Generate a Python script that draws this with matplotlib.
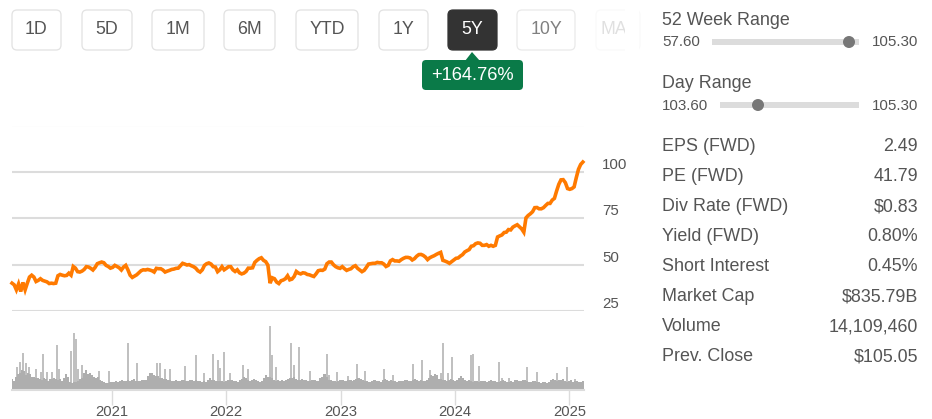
import numpy as np
import matplotlib
matplotlib.use("Agg")
import matplotlib.pyplot as plt
from matplotlib.patches import FancyBboxPatch, Polygon, Rectangle, Circle
from matplotlib.transforms import ScaledTranslation

plt.rcParams['font.family'] = ['Liberation Sans', 'DejaVu Sans']

# ---------- data ----------
price = [40.0,39.1,36.4,39.6,35.5,40.4,36.4,40,43.3,44.3,43.3,40.9,41.5,42.4,41.5,41.1,40.7,39.8,40,39.8,
 40,44,44.7,44.3,44,44.2,45.4,44.3,49,48.1,46.2,46,46.5,47.4,48.9,48.7,48,47.1,48.5,50.5,
 51,51.4,51,49.6,49,48.1,48.5,49.6,49,48.3,47.1,48.7,49.6,47.2,44.3,43.1,43.8,44.5,45.6,46.7,
 47.2,47.1,47.4,47.1,46.7,46,48,47.8,47.8,47.1,46,46.5,46.9,47.4,47.6,48,48.1,49.4,50.7,50.3,
 49.8,50,49.4,48.9,48.1,46.7,46,47.2,49.6,50.5,50.9,50.3,48.9,48.7,46.2,47.2,48.9,47.2,48,48.9,
 48.9,47.2,46.3,47.2,45.6,45,45.4,46.3,48.1,48.1,48.3,51.2,52.3,53.2,53.7,52.3,51.6,49.7,40,42.9,
 42.4,40.6,39.8,41.3,41.7,42.4,44,41.8,42.2,43.6,46.3,45.4,45,45.6,45.4,44.7,44.5,44,43.6,45,
 46.7,47,46.9,47.6,50.5,51.4,51.4,49.9,48.9,48.3,48,48.9,47.8,46.9,47.4,47.8,48.9,49.4,48,47.1,
 46.2,46.9,48.5,50.3,50.5,50.7,50.7,51.2,51,51,50.3,49,49.6,52,52.7,52,52,51.8,52.7,53.4,
 53.9,53.9,53.6,52.5,53.2,54.5,55.4,55.5,55,54.1,52.7,53.7,54.3,54.8,55.5,56.1,56.6,52.3,51.9,51.4,
 50.7,51.6,52.5,53.4,53.6,54.6,55.4,56.8,57.5,58.1,59.9,60.2,61.3,61.7,61.5,60.4,60.4,60.8,59.9,60.4,
 59.9,60.4,64.9,65.5,66,67.3,67.5,68.9,68.7,70.2,70.9,71.5,70.4,69.3,67.5,75.2,76.5,77.4,78.5,80.7,
 80.8,80.1,80.1,80.7,81.9,83,83,84.8,85.7,89.7,93.3,95.7,95.8,94.2,91,90.6,91,91.9,96.9,101.4,104,105.3]

volume = [34,28,38,48,52,60,56,44,52,47,40,40,36,36,32,30,35,32,28,34,
 32,36,34,30,32,28,36,47,40,24,22,23,24,26,32,36,52,60,47,52,
 44,40,36,38,30,26,23,21,21,23,24,24,26,24,26,30,26,28,30,28,
 31,33,28,26,28,30,31,30,42,52,50,45,43,42,37,36,34,32,31,30,
 28,26,30,28,28,31,30,28,26,31,30,28,31,28,26,24,26,23,30,36,
 31,30,28,28,26,28,24,26,30,31,30,28,26,24,31,34,38,36,30,28,
 31,34,30,26,24,28,36,44,38,40,37,31,26,30,28,31,28,30,34,37,
 36,38,32,31,30,32,31,30,28,26,31,30,28,28,36,40,48,38,31,30,
 28,26,24,28,31,30,26,28,31,30,26,30,34,36,32,31,28,26,24,23,
 26,30,28,26,24,30,32,31,28,30,26,28,24,26,28,26,30,31,28,26,
 30,32,30,28,30,26,28,31,36,45,42,48,44,34,32,30,31,28,30,32,
 31,28,30,36,42,37,31,28,30,26,24,28,26,24,26,28,26,24,26,30,
 28,26,24,23,26,30,28,24,23,26,24,30,31,28,26,31,30,26,24,23,
 26,28,24,23,21,23,24,21,23,30,32,31,28,30,31,32,28,24,26,30,
 24,26,28,24,23,28]

peak_year = [2020.170,2020.199,2020.222,2020.251,2020.274,2020.338,2020.379,2020.397,2020.432,2020.475,
 2020.525,2020.542,2020.641,2020.670,2020.685,2020.708,2020.737,2020.892,2020.979,2021.139,
 2021.218,2021.392,2021.421,2021.465,2021.509,2021.640,2021.733,2021.806,2021.890,2021.925,
 2021.945,2021.980,2022.033,2022.152,2022.190,2022.388,2022.402,2022.437,2022.571,2022.595,
 2022.635,2022.731,2022.885,2022.900,2022.973,2023.066,2023.148,2023.212,2023.383,2023.459,
 2023.631,2023.709,2023.779,2023.893,2023.878,2023.939,2023.971,2024.143,2024.155,2024.207,
 2024.382,2024.411,2024.469,2024.626,2024.719,2024.888,2024.981,2025.045]
peak_volume = [70,85,112,80,68,62,55,108,55,55,135,62,118,170,152,62,75,58,58,140,
 80,80,80,62,62,72,105,50,108,90,65,113,50,75,62,193,105,68,140,75,
 130,58,108,45,53,42,77,58,63,45,77,90,60,140,50,52,100,105,108,72,
 85,35,35,68,54,50,68,32]

price_ticks = [25, 50, 75, 100, 125]
price_tick_labels = ['25', '50', '75', '100', '']
years = [2021, 2022, 2023, 2024, 2025]
year_labels = ['2021', '2022', '2023', '2024', '2025']

buttons = ['1D', '5D', '1M', '6M', 'YTD', '1Y', '5Y', '10Y', 'MAX']
button_left = [12, 82, 152, 224, 296, 379, 448, 517, 596]
button_right = [61, 132, 204, 275, 358, 428, 497, 575, 640]
button_alpha = [1, 1, 1, 1, 1, 1, 1, 0.75, 0.18]
change_label = '+164.76%'

stat_names = ['EPS (FWD)', 'PE (FWD)', 'Div Rate (FWD)', 'Yield (FWD)', 'Short Interest',
              'Market Cap', 'Volume', 'Prev. Close']
stat_values = ['2.49', '41.79', '$0.83', '0.80%', '0.45%', '$835.79B', '14,109,460', '$105.05']

W, H = 932, 419
TXT = '#555555'
GRID = '#dcdcdc'
ORANGE = '#ff7a00'
VOL = '#aeaeae'

fig = plt.figure(figsize=(W / 100, H / 100), dpi=100, facecolor='white')


def axes_px(x0, x1, y_top, y_bot):
    return fig.add_axes([x0 / W, 1 - y_bot / H, (x1 - x0) / W, (y_bot - y_top) / H])


XLIM = (2020.129, 2025.128)

# ---------- price ----------
ax = axes_px(12, 584, 125.5, 311)
ax.set_xlim(*XLIM)
ax.set_ylim(25, 125)
for s in ax.spines.values():
    s.set_visible(False)
ax.patch.set_alpha(0)
ax.set_yticks(price_ticks)
ax.set_yticklabels(price_tick_labels)
ax.yaxis.tick_right()
ax.set_xticks([])
ax.grid(axis='y', color=GRID, lw=1.5)
ax.tick_params(axis='y', length=0, pad=13, labelsize=10.8, labelcolor=TXT)
shift = ScaledTranslation(0, 6.0 / 72, fig.dpi_scale_trans)
for lab in ax.get_yticklabels():
    lab.set_transform(lab.get_transform() + shift)
price_x = np.linspace(2020.129, 2025.118, len(price))
ax.plot(price_x, price, color=ORANGE, lw=2.6, solid_joinstyle='miter', clip_on=False, zorder=3)

# ---------- volume ----------
av = axes_px(12, 584, 323.5, 390)
av.set_xlim(*XLIM)
av.set_ylim(0, 200)
for k, s in av.spines.items():
    s.set_visible(k == 'bottom')
av.spines['bottom'].set_color(GRID)
av.spines['bottom'].set_linewidth(1.5)
av.patch.set_alpha(0)
av.set_yticks([])
av.set_xticks(years)
av.set_xticklabels(year_labels)
av.tick_params(axis='x', length=10.5, width=1, color=GRID, labelsize=10.6, labelcolor=TXT, pad=0)
vol_x = np.linspace(2020.129, 2025.118, len(volume))
av.bar(vol_x, volume, width=(vol_x[1] - vol_x[0]) * 1.05, color=VOL, lw=0)
av.vlines(peak_year, 0, peak_volume, color=VOL, lw=1.1)

# ---------- interface panel ----------
ui = fig.add_axes([0, 0, 1, 1], zorder=5)
ui.set_xlim(0, W)
ui.set_ylim(H, 0)
ui.axis('off')
ui.patch.set_alpha(0)

for name, l, r, a in zip(buttons, button_left, button_right, button_alpha):
    active = name == '5Y'
    ui.add_patch(FancyBboxPatch((l + 4, 14), r - l - 8, 32, boxstyle='round,pad=4,rounding_size=5',
                                fc='#333333' if active else 'white',
                                ec='#333333' if active else '#e2e2e2', lw=0.9, alpha=a, zorder=1))
    ui.text((l + r) / 2 if name != 'MAX' else 620, 30, name, ha='center', va='center',
            color='white' if active else TXT, alpha=a, fontsize=12.8, zorder=1)
ui.add_patch(Rectangle((625, 5), 14, 50, fc='white', ec='none', zorder=1.5))

ui.add_patch(Polygon([[465, 61], [472, 52], [480, 61]], fc='#0a7a48', ec='none'))
ui.add_patch(FancyBboxPatch((426, 64), 93, 22, boxstyle='round,pad=4,rounding_size=4', fc='#0a7a48', ec='none'))
ui.text(472.5, 75.5, change_label, ha='center', va='center', color='white', fontsize=13.2)

ui.text(662, 20.5, '52 Week Range', ha='left', va='center', color=TXT, fontsize=12.9)
ui.text(662, 42.5, '57.60', ha='left', va='center', color=TXT, fontsize=10.9)
ui.text(918, 42.5, '105.30', ha='right', va='center', color=TXT, fontsize=10.9)
ui.add_patch(Rectangle((712, 39), 147, 6, fc='#dcdcdc', ec='none'))
ui.add_patch(Circle((849, 42), 6, fc='#777777', ec='none'))

ui.text(662, 83, 'Day Range', ha='left', va='center', color=TXT, fontsize=12.9)
ui.text(662, 105.5, '103.60', ha='left', va='center', color=TXT, fontsize=10.9)
ui.text(918, 105.5, '105.30', ha='right', va='center', color=TXT, fontsize=10.9)
ui.add_patch(Rectangle((720, 102), 139, 6, fc='#dcdcdc', ec='none'))
ui.add_patch(Circle((758, 105), 6, fc='#777777', ec='none'))

for i, (n, v) in enumerate(zip(stat_names, stat_values)):
    y = 146.5 + 30 * i
    ui.text(662, y, n, ha='left', va='center', color=TXT, fontsize=12.9)
    ui.text(918, y, v, ha='right', va='center', color=TXT, fontsize=12.9)

fig.savefig('out.png', dpi=100, facecolor='white')
